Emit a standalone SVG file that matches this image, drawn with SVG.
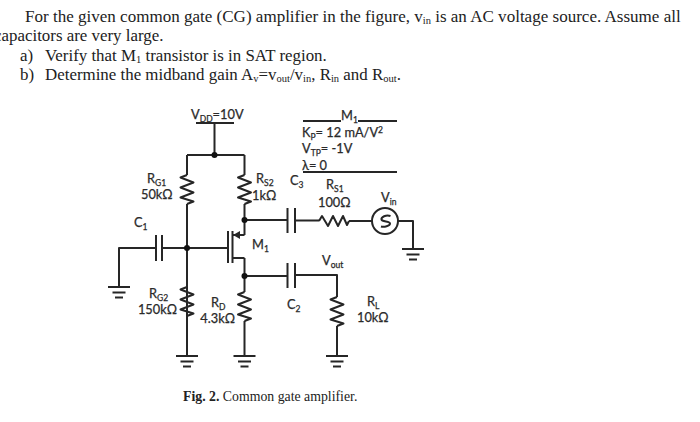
<svg xmlns="http://www.w3.org/2000/svg" width="700" height="422" viewBox="0 0 700 422">
<style>
.w{fill:none;stroke:#262626;stroke-width:2;stroke-linejoin:round}
.t{font-family:"Liberation Serif",serif;font-size:16.9px;fill:#222}
.c{font-size:13.8px}
.l{font-family:Lato,"Open Sans",sans-serif;font-size:12.8px;fill:#2a2a2a;stroke:#2a2a2a;stroke-width:.25}
.s{font-size:8.5px}
.ts{font-size:10.5px}
.d{fill:#111}
</style>
<defs>
<g id="gnd"><path class="w" d="M-11 0H11M-6.500 5.500H6.500M-4 10.500H4"/></g>
<path id="rv" class="w" d="M0 0L-6.500 2.500L6.500 7.500L-6.500 12.500L6.500 17.500L-6.500 22.500L6.500 26.500L0 29"/>
</defs>
<rect width="700" height="422" fill="#fff"/>
<g id="problem-text">
<text class="t" x="25" y="22" style="font-size:17.05px">For the given common gate (CG) amplifier in the figure, v<tspan class="ts" dy="2">in</tspan><tspan dy="-2"> is an AC voltage source. Assume all</tspan></text>
<text class="t" x="-6" y="41">capacitors are very large.</text>
<text class="t" x="20" y="61">a)</text>
<text class="t" x="45" y="61">Verify that M<tspan class="ts" dy="2">1</tspan><tspan dy="-2"> transistor is in SAT region.</tspan></text>
<text class="t" x="20" y="79.500">b)</text>
<text class="t" x="45" y="79.500">Determine the midband gain A<tspan class="ts" dy="2">v</tspan><tspan dy="-2">=v</tspan><tspan class="ts" dy="2">out</tspan><tspan dy="-2">/v</tspan><tspan class="ts" dy="2">in</tspan><tspan dy="-2">, R</tspan><tspan class="ts" dy="2">in</tspan><tspan dy="-2"> and R</tspan><tspan class="ts" dy="2">out</tspan><tspan dy="-2">.</tspan></text>
</g>
<g id="connectors">
<path class="w" d="M196 123H234M214.500 123V155M187 155H244.500M187 155V175M244.500 155V175"/>
<path class="w" d="M187 204V356M244.500 204V235M244.500 258V292M244.500 321V356"/>
<path class="w" d="M244.500 220H287M295 220.500H319M349 221H372M398 221H413V249"/>
<path class="w" d="M119 287V248H156M162 248H228"/>
<path class="w" d="M244.500 276H287M295 275H337V297M337 326V356"/>
</g>
<g id="VDD"><text class="l" x="191" y="119">V<tspan class="s" dy="2.500">DD</tspan><tspan dy="-2.500">=10V</tspan></text></g>
<g id="junctions"><circle class="d" cx="214.500" cy="155" r="3"/><circle class="d" cx="244.500" cy="220" r="3"/><circle class="d" cx="187" cy="248" r="3"/><circle class="d" cx="244.500" cy="276" r="3"/></g>
<g id="RG1"><use href="#rv" x="187" y="175"/><text class="l" x="147" y="183">R<tspan class="s" dy="2.500">G1</tspan></text><text class="l" x="141" y="199">50kΩ</text></g>
<g id="RS2"><use href="#rv" x="244.500" y="175"/><text class="l" x="256" y="183">R<tspan class="s" dy="2.500">S2</tspan></text><text class="l" x="252" y="200">1kΩ</text></g>
<g id="C1"><path class="w" d="M156 235V261M162 235V261"/><text class="l" x="134" y="227">C<tspan class="s" dy="2.500">1</tspan></text></g>
<g id="M1">
<path class="w" d="M228 231V263M232.500 231V263M232.500 235H244.500M232.500 258H244.500"/>
<path d="M233 235L240 231V239Z" fill="#262626"/>
<text class="l" x="252" y="249">M<tspan class="s" dy="2.500">1</tspan></text>
</g>
<g id="C3"><path class="w" d="M287.500 208V233M295 208V233"/><text class="l" x="290" y="185">C<tspan class="s" dy="2.500">3</tspan></text></g>
<g id="RS1"><path class="w" d="M319 221L322 216L328 226L333 216L338 226L343 216L347 225L349 221"/><text class="l" x="326" y="189">R<tspan class="s" dy="2.500">S1</tspan></text><text class="l" x="318" y="207">100Ω</text></g>
<g id="Vin"><circle class="w" cx="385" cy="221" r="13"/><path class="w" d="M390.500 216C386 214.500 381 217 381.500 219.500C382 222 390 221 390 223.500C390 226 384 227.500 381 226.500"/><text class="l" x="381" y="202">V<tspan class="s" dy="2.500">in</tspan></text><use href="#gnd" x="413" y="249"/></g>
<g id="spec">
<path class="w" d="M303 121H341M358 121H397M303 172H397"/>
<text class="l" x="341" y="120">M<tspan class="s" dy="2.500">1</tspan></text>
<text class="l" x="302" y="137">K<tspan class="s" dy="2.500">P</tspan><tspan dy="-2.500">= 12 mA/V</tspan><tspan class="s" dy="-4">2</tspan></text>
<text class="l" x="302" y="153">V<tspan class="s" dy="2.500">TP</tspan><tspan dy="-2.500">= -1V</tspan></text>
<text class="l" x="302" y="170">λ= 0</text>
</g>
<g id="C2"><path class="w" d="M287.500 263V288M295 263V288"/><text class="l" x="287" y="309">C<tspan class="s" dy="2.500">2</tspan></text></g>
<g id="Vout"><text class="l" x="322" y="265">V<tspan class="s" dy="2.500">out</tspan></text></g>
<g id="RL"><use href="#rv" x="337" y="297"/><text class="l" x="367" y="306">R<tspan class="s" dy="2.500">L</tspan></text><text class="l" x="357" y="322">10kΩ</text><use href="#gnd" x="337" y="356"/></g>
<g id="RG2"><use href="#rv" x="187" y="287"/><text class="l" x="149" y="298">R<tspan class="s" dy="2.500">G2</tspan></text><text class="l" x="177" y="314" text-anchor="end">150kΩ</text><use href="#gnd" x="187" y="356"/></g>
<g id="RD"><use href="#rv" x="244.500" y="292"/><text class="l" x="211" y="307">R<tspan class="s" dy="2.500">D</tspan></text><text class="l" x="235" y="323" text-anchor="end">4.3kΩ</text><use href="#gnd" x="244.500" y="356"/></g>
<g id="GND-C1"><use href="#gnd" x="119" y="287"/></g>
<g id="caption"><text class="t c" x="183" y="401"><tspan font-weight="bold">Fig. 2.</tspan> Common gate amplifier.</text></g>
</svg>
